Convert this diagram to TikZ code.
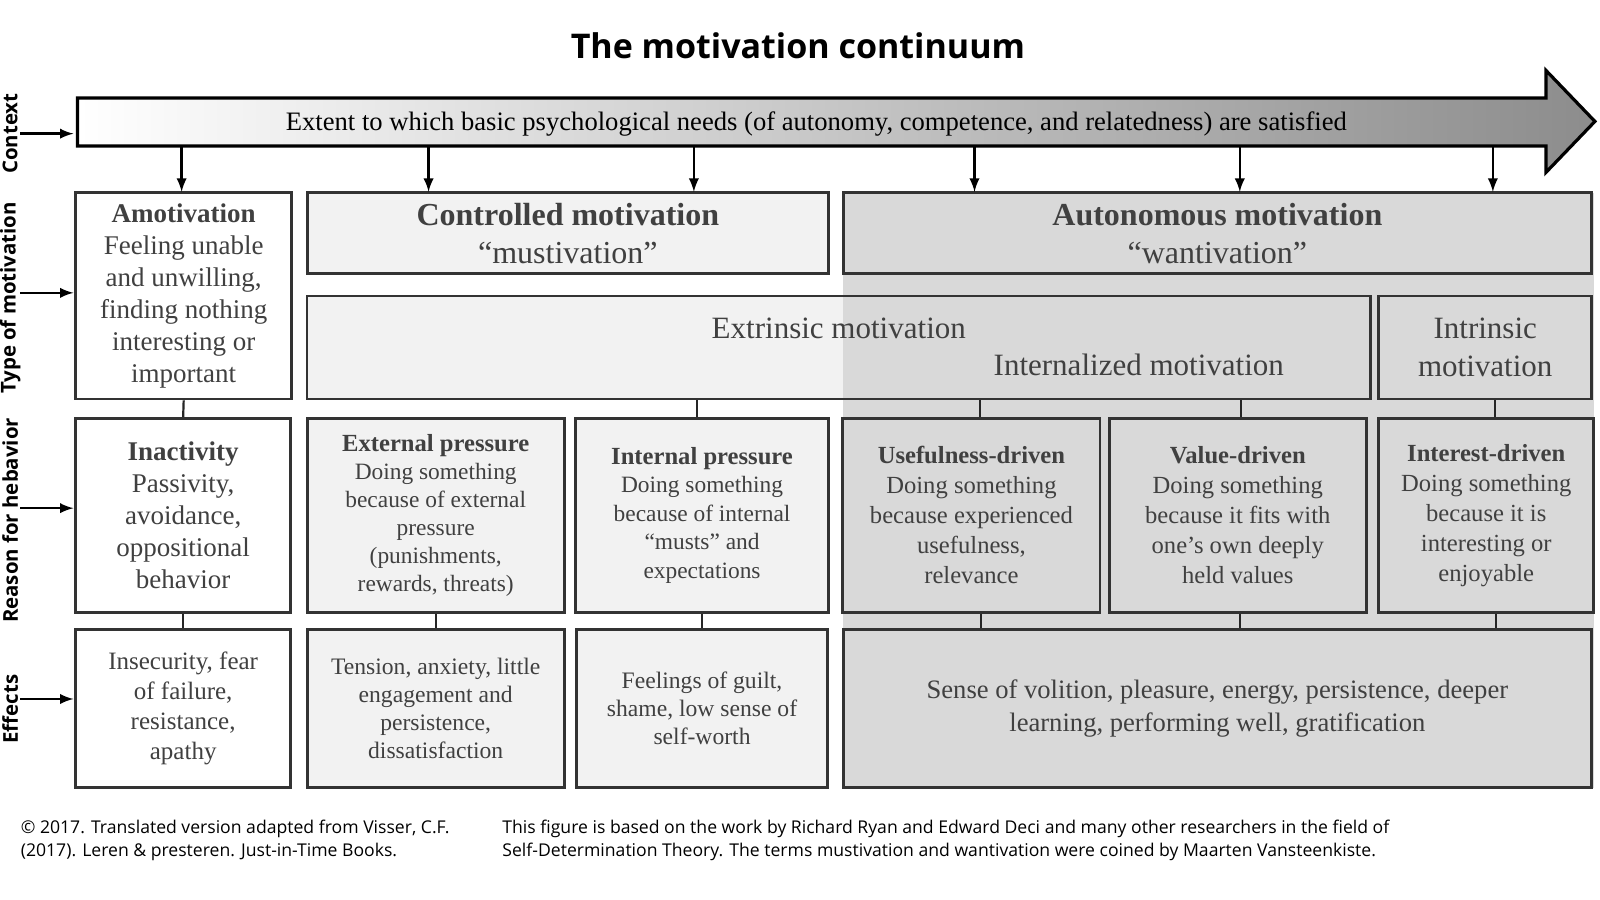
\documentclass[tikz,border=0pt]{standalone}
\usepackage{fontspec}
\setmainfont{Liberation Serif}
\newfontfamily\osans{Open Sans}
\begin{document}
\begin{tikzpicture}[x=0.51pt,y=-0.51pt,
  box/.style={draw=black!80,line width=1.4pt,align=center,text=black!75,inner sep=0pt},
  lt/.style={fill=black!5},
  dk/.style={fill=black!15},
  conn/.style={line width=1.1pt,black!85},
  arr/.style={line width=1.3pt,-latex},
  side/.style={rotate=90,font=\osans\bfseries\fontsize{10.2}{12}\selectfont,anchor=center}]
\useasboundingbox (0,0) rectangle (1568,882);
\fill[white] (0,0) rectangle (1568,882);
\node (title) at (782,45) {\osans\bfseries\fontsize{17}{20}\selectfont The motivation continuum};
% arrow
\shade[left color=white,right color=black!45,draw=black,line width=1.6pt]
 (76,96) -- (1515,96) -- (1515,69) -- (1563,119) -- (1515,169) -- (1515,143) -- (76,143) -- cycle;
\node[font=\fontsize{13.3}{15}\selectfont] (ctx) at (800,122) {Extent to which basic psychological needs (of autonomy, competence, and relatedness) are satisfied};
% gray background
\fill[black!15] (826,189) rectangle (1562,772);
\fill[black!5] (301,290) rectangle (826,391);
% boxes row 1-2
\node[box,fill=white,minimum width=108pt,minimum height=103pt,font=\fontsize{13.5}{16}\selectfont] (amot) at (180,290) {{\bfseries Amotivation}\\Feeling unable\\and unwilling,\\finding nothing\\interesting or\\important};
\node[box,lt,minimum width=260.5pt,minimum height=40.3pt,font=\fontsize{16}{19}\selectfont] (contr) at (556.5,228.5) {{\bfseries Controlled motivation}\\``mustivation''};
\node[box,dk,minimum width=374pt,minimum height=40.3pt,font=\fontsize{16}{19}\selectfont] (auton) at (1193,228.5) {{\bfseries Autonomous motivation}\\``wantivation''};
\node[box,minimum width=531.5pt,minimum height=51.5pt] (extr) at (822,340.5) {};
\node[text=black!75,font=\fontsize{15.5}{18}\selectfont] (extrt) at (822,322) {Extrinsic motivation};
\node[text=black!75,font=\fontsize{15.5}{18}\selectfont] (intzt) at (1116,358) {Internalized motivation};
\node[box,dk,minimum width=106.6pt,minimum height=51.5pt,font=\fontsize{15.5}{19}\selectfont] (intr) at (1455.5,340.5) {Intrinsic\\motivation};
% row 3
\node[box,fill=white,minimum width=107.6pt,minimum height=97pt,font=\fontsize{13.5}{16}\selectfont] (inact) at (179.5,505) {{\bfseries Inactivity}\\Passivity,\\avoidance,\\oppositional\\behavior};
\node[box,lt,minimum width=128.5pt,minimum height=97pt,font=\fontsize{11.7}{14}\selectfont] (ext) at (427,505) {{\bfseries\fontsize{12.3}{14}\selectfont External pressure}\\Doing something\\because of external\\pressure\\(punishments,\\rewards, threats)};
\node[box,lt,minimum width=126.5pt,minimum height=97pt,font=\fontsize{11.7}{14.2}\selectfont] (int) at (688,505) {{\bfseries\fontsize{12.3}{14}\selectfont Internal pressure}\\Doing something\\because of internal\\``musts'' and\\expectations};
\node[box,dk,minimum width=128.5pt,minimum height=97pt,font=\fontsize{12.3}{15}\selectfont] (use) at (952,505) {{\bfseries Usefulness-driven}\\Doing something\\because experienced\\usefulness,\\relevance};
\node[box,dk,minimum width=128.5pt,minimum height=97pt,font=\fontsize{12.3}{15}\selectfont] (val) at (1213,505) {{\bfseries Value-driven}\\Doing something\\because it fits with\\one’s own deeply\\held values};
\node[box,dk,minimum width=107.6pt,minimum height=97pt,font=\fontsize{12.3}{15}\selectfont] (intd) at (1456.5,505) {{\bfseries Interest-driven}\\Doing something\\because it is\\interesting or\\enjoyable};
% row 4
\node[box,fill=white,minimum width=107.6pt,minimum height=79pt,font=\fontsize{12.5}{15}\selectfont] (e1) at (179.5,694.5) {Insecurity, fear\\of failure,\\resistance,\\apathy};
\node[box,lt,minimum width=128.5pt,minimum height=79pt,font=\fontsize{11.8}{14}\selectfont] (e2) at (427,694.5) {Tension, anxiety, little\\engagement and\\persistence,\\dissatisfaction};
\node[box,lt,minimum width=125.5pt,minimum height=79pt,font=\fontsize{11.8}{14}\selectfont] (e3) at (688,694.5) {Feelings of guilt,\\shame, low sense of\\self-worth};
\node[box,dk,minimum width=374pt,minimum height=79pt] (e4) at (1193,694.5) {\raisebox{8pt}{\fontsize{13.3}{16.5}\selectfont\begin{tabular}{c}Sense of volition, pleasure, energy, persistence, deeper\\learning, performing well, gratification\end{tabular}}};
% down arrows
\foreach \x in {178,420,680,955,1215,1463}
  \draw[arr] (\x,143) -- (\x,188);
% connectors
\draw[conn] (amot.south) -- (inact.north);
\draw[conn] (extr.south -| 683,0) -- (int.north -| 683,0);
\draw[conn] (extr.south -| 960,0) -- (use.north -| 960,0);
\draw[conn] (extr.south -| 1216,0) -- (val.north -| 1216,0);
\draw[conn] (intr.south -| 1465,0) -- (intd.north -| 1465,0);
\draw[conn] (inact.south) -- (e1.north);
\draw[conn] (ext.south) -- (e2.north);
\draw[conn] (int.south) -- (e3.north);
\draw[conn] (use.south -| 961,0) -- (e4.north -| 961,0);
\draw[conn] (val.south -| 1215,0) -- (e4.north -| 1215,0);
\draw[conn] (intd.south -| 1466,0) -- (e4.north -| 1466,0);
% side labels
\node[side] (s1) at (10,131) {Context};
\node[side] (s2) at (10,292) {Type of motivation};
\node[side] (s3) at (10,510) {Reason for hebavior};
\node[side] (s4) at (10,695) {Effects};
\foreach \y in {131,287,498,685} \draw[arr] (20,\y) -- (72,\y);
% footnotes
\node[anchor=north west,align=left,font=\osans\fontsize{8.8}{11.8}\selectfont,inner sep=0pt] (f1) at (20,803) {© 2017. Translated version adapted from Visser, C.F.\\(2017). Leren \& presteren. Just-in-Time Books.};
\node[anchor=north west,align=left,font=\osans\fontsize{8.8}{11.8}\selectfont,inner sep=0pt] (f2) at (492,803) {This figure is based on the work by Richard Ryan and Edward Deci and many other researchers in the field of\\Self-Determination Theory. The terms mustivation and wantivation were coined by Maarten Vansteenkiste.};
\end{tikzpicture}
\end{document}
